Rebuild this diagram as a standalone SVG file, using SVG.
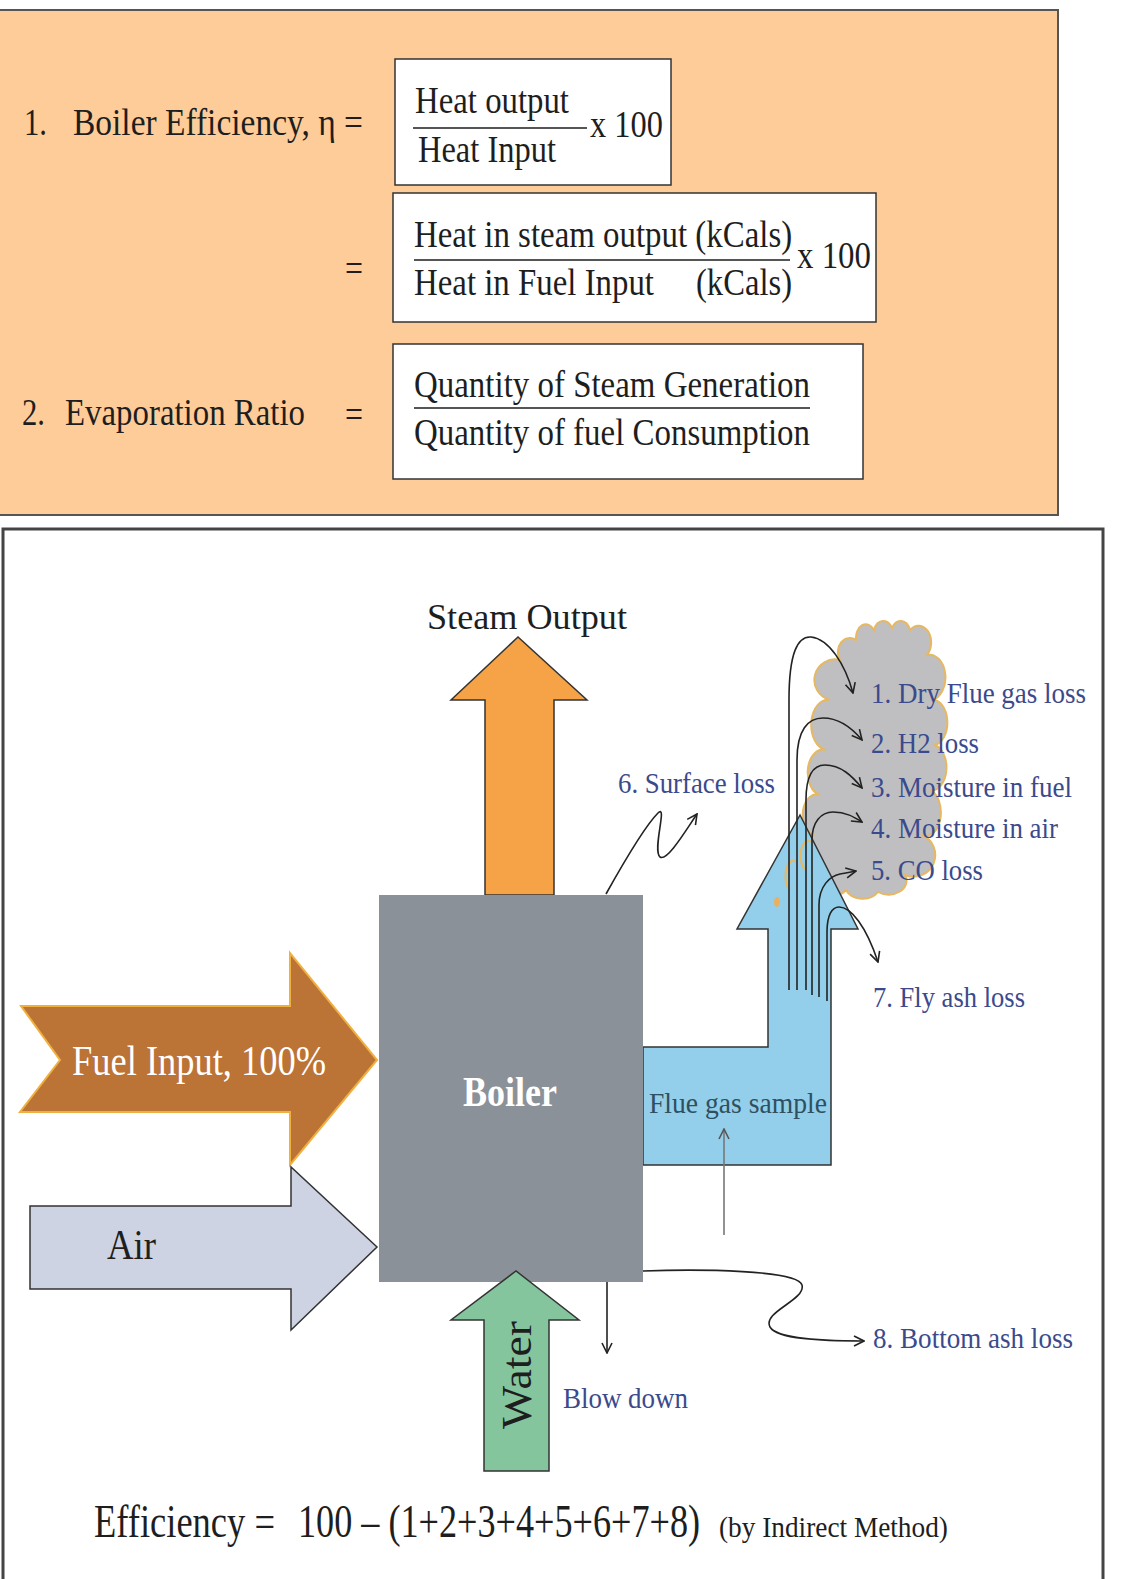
<svg xmlns="http://www.w3.org/2000/svg" width="1134" height="1579" viewBox="0 0 1134 1579">
<defs>
<style>
text{font-family:"Liberation Serif","Times New Roman",serif;}
.k{fill:#1e1e1e;}
.f{font-size:38px;}
.l{font-size:30px;fill:#3b4a8c;}
.box{fill:#fff;stroke:#333;stroke-width:1.5;}
.frac{stroke:#555;stroke-width:2;}
.con{fill:none;stroke:#222;stroke-width:1.6;}
.shape{stroke:#333;stroke-width:1.5;}
</style>
<marker id="arr" viewBox="0 0 12 12" refX="11" refY="6" markerWidth="12" markerHeight="12" orient="auto" markerUnits="userSpaceOnUse">
<path d="M1,1 L11,6 L1,11" fill="none" stroke="#222" stroke-width="1.6"/>
</marker>
<marker id="arrg" viewBox="0 0 12 12" refX="11" refY="6" markerWidth="12" markerHeight="12" orient="auto" markerUnits="userSpaceOnUse">
<path d="M1,1 L11,6 L1,11" fill="none" stroke="#555" stroke-width="1.6"/>
</marker>
</defs>
<rect width="1134" height="1579" fill="#fff"/>

<g id="formulas">
<rect x="-2" y="10" width="1060" height="505" fill="#fdcc99" stroke="#555" stroke-width="2"/>
<text class="k f" x="24" y="135" textLength="23" lengthAdjust="spacingAndGlyphs">1.</text>
<text class="k f" x="73" y="135" textLength="290" lengthAdjust="spacingAndGlyphs">Boiler Efficiency, η =</text>
<rect class="box" x="395" y="59" width="276" height="126"/>
<text class="k f" x="415" y="113" textLength="154" lengthAdjust="spacingAndGlyphs">Heat output</text>
<line class="frac" x1="413" y1="128" x2="587" y2="128"/>
<text class="k f" x="418" y="162" textLength="138" lengthAdjust="spacingAndGlyphs">Heat Input</text>
<text class="k" font-size="32.4" transform="translate(590,137) scale(1,1.17)">x 100</text>

<text class="k f" x="345" y="281" textLength="18" lengthAdjust="spacingAndGlyphs">=</text>
<rect class="box" x="393" y="193" width="483" height="129"/>
<text class="k" font-size="32.9" transform="translate(414,247) scale(1,1.155)">Heat in steam output (kCals)</text>
<line class="frac" x1="414" y1="260" x2="790" y2="260"/>
<text class="k f" x="414" y="295" textLength="240" lengthAdjust="spacingAndGlyphs">Heat in Fuel Input</text>
<text class="k f" x="696" y="295" textLength="96" lengthAdjust="spacingAndGlyphs">(kCals)</text>
<text class="k" font-size="32.9" transform="translate(797,268) scale(1,1.155)">x 100</text>

<text class="k f" x="22" y="425" textLength="23" lengthAdjust="spacingAndGlyphs">2.</text>
<text class="k f" x="65" y="425" textLength="240" lengthAdjust="spacingAndGlyphs">Evaporation Ratio</text>
<text class="k f" x="345" y="427" textLength="18" lengthAdjust="spacingAndGlyphs">=</text>
<rect class="box" x="393" y="344" width="470" height="135"/>
<text class="k f" x="414" y="397" textLength="396" lengthAdjust="spacingAndGlyphs">Quantity of Steam Generation</text>
<line class="frac" x1="414" y1="408" x2="810" y2="408"/>
<text class="k f" x="414" y="445" textLength="396" lengthAdjust="spacingAndGlyphs">Quantity of fuel Consumption</text>
</g>

<rect x="3" y="529" width="1100" height="1070" fill="#fff" stroke="#444" stroke-width="3"/>

<g id="cloud">
<path d="M830,700 A14,14 0 0 1 840,660 A12,14 0 0 1 856,640 A10,14 0 0 1 874,630 A10,14 0 0 1 892,628 A10,14 0 0 1 910,630 A12,16 0 0 1 927,655 A14,20 0 0 1 932,700 A14,22 0 0 1 934,745 A14,22 0 0 1 930,790 A14,22 0 0 1 922,835 A18,18 0 0 1 905,875 A18,14 0 0 1 878,892 A18,14 0 0 1 846,890 A14,14 0 0 1 822,870 A12,16 0 0 1 813,835 A12,18 0 0 1 820,795 A12,18 0 0 1 826,750 A12,18 0 0 1 830,700 Z" fill="#bfbfc1" stroke="#e6b862" stroke-width="2"/>
</g>

<g id="steam">
<polygon class="shape" points="485,895 485,700 451,700 518,637 587,700 554,700 554,895" fill="#f6a347"/>
<text class="k" x="427" y="629" font-size="36" textLength="200" lengthAdjust="spacingAndGlyphs">Steam Output</text>
</g>

<g id="flue">
<polygon class="shape" points="643,1047 768,1047 768,929 737,929 800,815 858,929 831,929 831,1165 643,1165" fill="#93cfea"/>
<ellipse cx="777" cy="902" rx="3" ry="5" fill="#e8b060"/>
<path d="M790,890 A6,12 0 0 1 796,862 M806,870 A8,14 0 0 1 812,842" fill="none" stroke="#e6b862" stroke-width="2"/>
<text x="649" y="1113" font-size="30" fill="#2f5060" textLength="178" lengthAdjust="spacingAndGlyphs">Flue gas sample</text>
</g>

<g id="fuel">
<polygon points="21,1006 290,1006 290,953 377,1060 290,1165 290,1112 20,1112 60,1060" fill="#bb7336" stroke="#f0b040" stroke-width="2"/>
<text x="72" y="1075" font-size="42" fill="#fff" textLength="254" lengthAdjust="spacingAndGlyphs">Fuel Input, 100%</text>
</g>

<g id="air">
<polygon class="shape" points="30,1206 291,1206 291,1167 377,1247 291,1330 291,1289 30,1289" fill="#cdd3e3" stroke-width="2"/>
<text class="k" x="107" y="1259" font-size="42" textLength="49" lengthAdjust="spacingAndGlyphs">Air</text>
</g>

<g id="boiler">
<rect x="379" y="895" width="264" height="387" fill="#8b9199"/>
<text x="463" y="1106" font-size="42" font-weight="bold" fill="#fff" textLength="94" lengthAdjust="spacingAndGlyphs">Boiler</text>
</g>

<g id="water">
<polygon class="shape" points="484,1471 549,1471 549,1320 579,1320 516,1271 451,1320 484,1320" fill="#85c59e"/>
<text class="k" x="0" y="0" font-size="42" text-anchor="middle" transform="translate(531,1375) rotate(-90)" textLength="108" lengthAdjust="spacingAndGlyphs">Water</text>
</g>

<g id="labels">
<text class="l" x="871" y="703" textLength="215" lengthAdjust="spacingAndGlyphs">1. Dry Flue gas loss</text>
<text class="l" x="871" y="753" textLength="108" lengthAdjust="spacingAndGlyphs">2. H2 loss</text>
<text class="l" x="871" y="797" textLength="201" lengthAdjust="spacingAndGlyphs">3. Moisture in fuel</text>
<text class="l" x="871" y="838" textLength="187" lengthAdjust="spacingAndGlyphs">4. Moisture in air</text>
<text class="l" x="871" y="880" textLength="112" lengthAdjust="spacingAndGlyphs">5. CO loss</text>
<text class="l" x="618" y="793" textLength="157" lengthAdjust="spacingAndGlyphs">6. Surface loss</text>
<text class="l" x="873" y="1007" textLength="152" lengthAdjust="spacingAndGlyphs">7. Fly ash loss</text>
<text class="l" x="873" y="1348" textLength="200" lengthAdjust="spacingAndGlyphs">8. Bottom ash loss</text>
<text class="l" x="563" y="1408" textLength="125" lengthAdjust="spacingAndGlyphs">Blow down</text>
</g>

<g id="connectors">
<path class="con" d="M606,894 C625,860 645,826 658,813 C668,803 652,850 660,857 C667,862 686,830 697,814" marker-end="url(#arr)"/>
<path class="con" d="M607,1282 L607,1353" marker-end="url(#arr)"/>
<path d="M724,1235 L724,1129" fill="none" stroke="#777" stroke-width="1.6" marker-end="url(#arrg)"/>
<path class="con" d="M643,1271 C700,1269 798,1270 802,1285 C806,1300 762,1312 770,1327 C777,1339 820,1341 864,1341" marker-end="url(#arr)"/>
<path class="con" d="M789,990 L789,700 C789,652 798,636 811,637 C829,639 845,664 853,693" marker-end="url(#arr)"/>
<path class="con" d="M797,990 L797,760 C797,730 808,718 823,718 C840,718 852,728 862,740" marker-end="url(#arr)"/>
<path class="con" d="M806,990 L806,800 C806,776 813,765 825,765 C841,765 852,776 862,788" marker-end="url(#arr)"/>
<path class="con" d="M812,995 L812,840 C812,822 821,812 833,812 C846,812 854,817 862,822" marker-end="url(#arr)"/>
<path class="con" d="M819,997 L819,905 C819,886 830,876 840,874 C847,873 851,872 856,871" marker-end="url(#arr)"/>
<path class="con" d="M827,1001 L827,932 C827,915 832,907 839,907 C851,907 866,926 878,962" marker-end="url(#arr)"/>
</g>

<g id="efficiency">
<text class="k" font-size="36.5" transform="translate(94,1537) scale(1,1.26)">Efficiency =</text>
<text class="k" font-size="36.2" transform="translate(298,1537) scale(1,1.27)">100 – (1+2+3+4+5+6+7+8)</text>
<text class="k" font-size="27.3" transform="translate(719,1537) scale(1,1.06)">(by Indirect Method)</text>
</g>
</svg>
